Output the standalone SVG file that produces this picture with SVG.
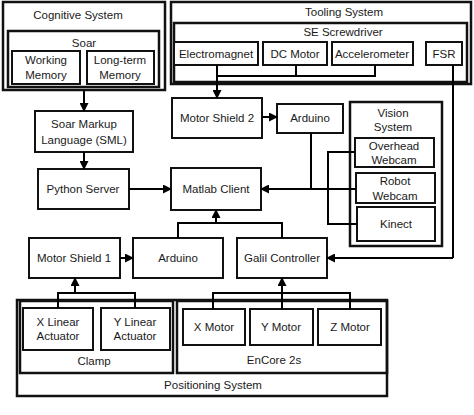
<svg xmlns="http://www.w3.org/2000/svg" width="474" height="415" viewBox="0 0 474 415">
<defs>
<marker id="ah" markerWidth="9" markerHeight="9" refX="8" refY="4.5" orient="auto" markerUnits="userSpaceOnUse">
<path d="M0,0 L9,4.5 L0,9 Z" fill="#000"/>
</marker>
<style>
rect{fill:#fff;stroke:#111;stroke-width:2}
rect.c{fill:none;stroke-width:2.5}
text{font-family:"Liberation Sans",Arial,sans-serif;font-size:11.5px;fill:#1a1a1a;text-anchor:middle;dominant-baseline:central}
.w line,.w path{stroke:#000;stroke-width:2;fill:none}
</style>
</defs>
<rect width="474" height="415" style="fill:#fff;stroke:none"/>

<g id="cognitive">
<rect class="c" x="3" y="2" width="162" height="88"/>
<text x="78" y="15">Cognitive System</text>
</g>
<g id="soar">
<rect class="c" x="8" y="31" width="151" height="56"/>
<text x="84" y="43">Soar</text>
</g>
<g id="working-memory">
<rect x="12" y="51" width="68" height="33"/>
<text x="46" y="60">Working</text><text x="46" y="75">Memory</text>
</g>
<g id="longterm-memory">
<rect x="87" y="51" width="67" height="33"/>
<text x="120" y="60">Long-term</text><text x="120" y="75">Memory</text>
</g>
<g id="sml">
<rect x="35" y="111" width="98" height="41"/>
<text x="84" y="124">Soar Markup</text><text x="84" y="140">Language (SML)</text>
</g>
<g id="python-server">
<rect x="38" y="169" width="91" height="40"/>
<text x="83" y="189">Python Server</text>
</g>
<g id="matlab-client">
<rect x="171" y="168" width="90" height="42"/>
<text x="216" y="189">Matlab Client</text>
</g>

<g id="tooling">
<rect class="c" x="171" y="2" width="300" height="82"/>
<text x="344" y="12">Tooling System</text>
</g>
<g id="se-screwdriver">
<rect class="c" x="174" y="23" width="293" height="59"/>
<text x="343" y="32">SE Screwdriver</text>
</g>
<g id="electromagnet">
<rect x="174" y="42" width="84" height="23"/>
<text x="216" y="53.5">Electromagnet</text>
</g>
<g id="dc-motor">
<rect x="263" y="42" width="64" height="23"/>
<text x="295" y="53.5">DC Motor</text>
</g>
<g id="accelerometer">
<rect x="332" y="42" width="81" height="23"/>
<text x="372" y="53.5">Accelerometer</text>
</g>
<g id="fsr">
<rect x="426" y="42" width="36" height="23"/>
<text x="444" y="53.5">FSR</text>
</g>
<g id="motor-shield-2">
<rect x="172" y="98" width="90" height="40"/>
<text x="217" y="118">Motor Shield 2</text>
</g>
<g id="arduino-top">
<rect x="277" y="104" width="66" height="29"/>
<text x="310" y="118">Arduino</text>
</g>
<g id="vision-system">
<rect class="c" x="350" y="102" width="92" height="144"/>
<text x="393" y="113">Vision</text><text x="393" y="127">System</text>
</g>
<g id="overhead-webcam">
<rect x="355" y="138" width="79" height="29"/>
<text x="394" y="146">Overhead</text><text x="394" y="160">Webcam</text>
</g>
<g id="robot-webcam">
<rect x="356" y="173" width="79" height="30"/>
<text x="395" y="181">Robot</text><text x="395" y="196">Webcam</text>
</g>
<g id="kinect">
<rect x="357" y="207" width="78" height="34"/>
<text x="396" y="224">Kinect</text>
</g>

<g id="motor-shield-1">
<rect x="29" y="238" width="91" height="40"/>
<text x="74" y="258">Motor Shield 1</text>
</g>
<g id="arduino-bottom">
<rect x="133" y="238" width="90" height="40"/>
<text x="178" y="258">Arduino</text>
</g>
<g id="galil-controller">
<rect x="237" y="238" width="90" height="40"/>
<text x="282" y="258">Galil Controller</text>
</g>

<g id="positioning">
<rect class="c" x="17" y="300" width="370" height="96"/>
<text x="213" y="385">Positioning System</text>
</g>
<g id="clamp">
<rect class="c" x="20" y="301" width="153" height="72"/>
<text x="94" y="361">Clamp</text>
</g>
<g id="x-linear-actuator">
<rect x="23" y="308" width="70" height="42"/>
<text x="58" y="322">X Linear</text><text x="58" y="336">Actuator</text>
</g>
<g id="y-linear-actuator">
<rect x="101" y="308" width="69" height="42"/>
<text x="135" y="322">Y Linear</text><text x="135" y="336">Actuator</text>
</g>
<g id="encore">
<rect class="c" x="177" y="301" width="210" height="72"/>
<text x="274" y="360">EnCore 2s</text>
</g>
<g id="x-motor">
<rect x="183" y="309" width="62" height="36"/>
<text x="214" y="327">X Motor</text>
</g>
<g id="y-motor">
<rect x="250" y="309" width="63" height="36"/>
<text x="281" y="327">Y Motor</text>
</g>
<g id="z-motor">
<rect x="318" y="309" width="63" height="36"/>
<text x="350" y="327">Z Motor</text>
</g>

<g id="connectors" class="w">
<line x1="84" y1="90" x2="84" y2="111" marker-end="url(#ah)"/>
<line x1="84" y1="152" x2="84" y2="169" marker-end="url(#ah)"/>
<line x1="129" y1="189" x2="171" y2="189" marker-end="url(#ah)"/>
<path d="M296,65 V76 M375,65 V76 H217"/>
<line x1="217" y1="65" x2="217" y2="98" marker-end="url(#ah)"/>
<line x1="262" y1="117" x2="277" y2="117" marker-end="url(#ah)"/>
<path d="M311,133 V189 M355,152 H328 V224 H357"/>
<line x1="356" y1="189" x2="261" y2="189" marker-end="url(#ah)"/>
<path d="M453,65 V258"/>
<line x1="453" y1="258" x2="327" y2="258" marker-end="url(#ah)"/>
<line x1="120" y1="258" x2="133" y2="258" marker-end="url(#ah)"/>
<path d="M178,238 V223 H282 V238"/>
<line x1="216" y1="223" x2="216" y2="210" marker-end="url(#ah)"/>
<path d="M58,308 V293 H135 V308"/>
<line x1="75" y1="293" x2="75" y2="278" marker-end="url(#ah)"/>
<path d="M213,309 V293 H350 V309"/>
<line x1="282" y1="309" x2="282" y2="278" marker-end="url(#ah)"/>
</g>
</svg>
